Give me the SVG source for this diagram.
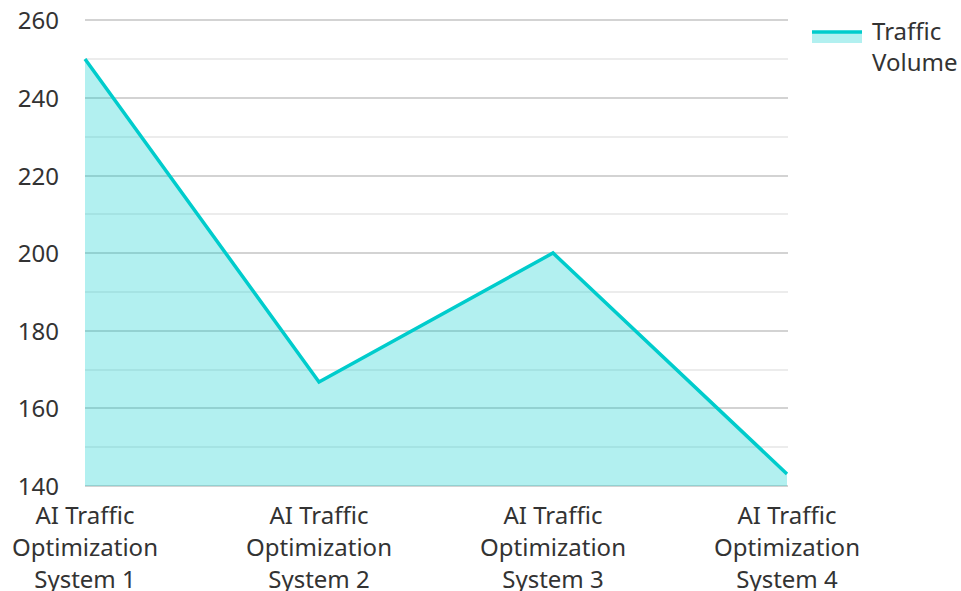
<svg xmlns="http://www.w3.org/2000/svg" width="961" height="591" viewBox="0 0 961 591">
<style>
text{font-family:"Noto Sans","Open Sans","Liberation Sans",sans-serif;font-size:24px;fill:#333}
.major{stroke:#c4c4c4;stroke-width:1.5}
.minor{stroke:#e6e6e6;stroke-width:1.5}
.yl{text-anchor:end}
.xl{text-anchor:middle}
</style>
<rect width="961" height="591" fill="#fff"/>
<g id="grid">
<line class="major" x1="85" y1="20" x2="788" y2="20"/>
<line class="minor" x1="85" y1="59" x2="788" y2="59"/>
<line class="major" x1="85" y1="98" x2="788" y2="98"/>
<line class="minor" x1="85" y1="137" x2="788" y2="137"/>
<line class="major" x1="85" y1="176" x2="788" y2="176"/>
<line class="minor" x1="85" y1="214" x2="788" y2="214"/>
<line class="major" x1="85" y1="253" x2="788" y2="253"/>
<line class="minor" x1="85" y1="292" x2="788" y2="292"/>
<line class="major" x1="85" y1="331" x2="788" y2="331"/>
<line class="minor" x1="85" y1="370" x2="788" y2="370"/>
<line class="major" x1="85" y1="408" x2="788" y2="408"/>
<line class="minor" x1="85" y1="447" x2="788" y2="447"/>
<line class="major" x1="85" y1="486" x2="788" y2="486"/>
</g>
<g id="y-axis">
<text class="yl" x="59" y="29">260</text>
<text class="yl" x="59" y="107">240</text>
<text class="yl" x="59" y="185">220</text>
<text class="yl" x="59" y="262">200</text>
<text class="yl" x="59" y="340">180</text>
<text class="yl" x="59" y="417">160</text>
<text class="yl" x="59" y="495">140</text>
</g>
<g id="series">
<polygon points="85,59 319,382 553,253 787,474 787,486 85,486" fill="#00cccc" fill-opacity="0.3"/>
<polyline points="85,59 319,382 553,253 787,474" fill="none" stroke="#00cccc" stroke-width="3.5" stroke-linejoin="miter"/>
</g>
<g id="x-axis">
<text class="xl" x="85" y="524">AI Traffic</text>
<text class="xl" x="85" y="556">Optimization</text>
<text class="xl" x="85" y="588">System 1</text>
<text class="xl" x="319" y="524">AI Traffic</text>
<text class="xl" x="319" y="556">Optimization</text>
<text class="xl" x="319" y="588">System 2</text>
<text class="xl" x="553" y="524">AI Traffic</text>
<text class="xl" x="553" y="556">Optimization</text>
<text class="xl" x="553" y="588">System 3</text>
<text class="xl" x="787" y="524">AI Traffic</text>
<text class="xl" x="787" y="556">Optimization</text>
<text class="xl" x="787" y="588">System 4</text>
</g>
<g id="legend">
<rect x="812" y="32" width="50" height="11" fill="#00cccc" fill-opacity="0.3"/>
<line x1="812" y1="32" x2="862" y2="32" stroke="#00cccc" stroke-width="3.5"/>
<text x="872" y="40">Traffic</text>
<text x="872" y="71">Volume</text>
</g>
</svg>
